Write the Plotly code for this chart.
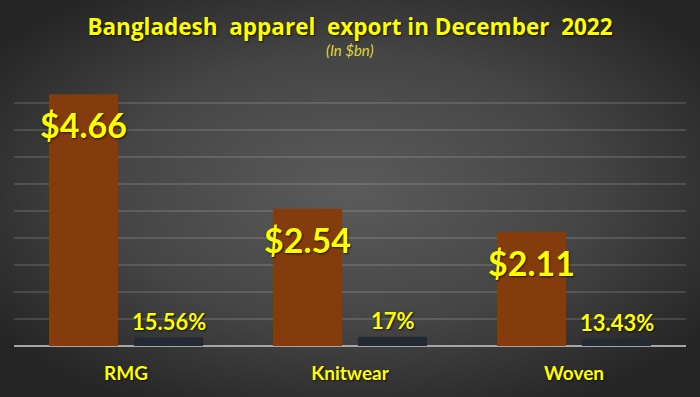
import base64
import plotly.graph_objects as go

categories = ["RMG", "Knitwear", "Woven"]
export_values = [4.66, 2.54, 2.11]
growth_values = [0.1556, 0.17, 0.1343]
value_labels = ["$4.66", "$2.54", "$2.11"]
growth_labels = ["15.56%", "17%", "13.43%"]

W, H = 700, 397
ML, MR, MT, MB = 14, 14, 76, 51
PW, PH = W - ML - MR, H - MT - MB

FONT = "Lato, Calibri, 'Open Sans', sans-serif"
TFONT = "'Open Sans', Lato, sans-serif"
YELLOW = "#FFFF00"
SHADOW = "1px 1px 2px rgba(0,0,0,0.75)"

svg = (
    "<svg xmlns='http://www.w3.org/2000/svg' width='700' height='397'>"
    "<defs><radialGradient id='g' cx='50%' cy='48%' r='62%'>"
    "<stop offset='0' stop-color='#5b5b5b'/>"
    "<stop offset='0.55' stop-color='#454545'/>"
    "<stop offset='1' stop-color='#252525'/>"
    "</radialGradient></defs>"
    "<rect width='700' height='397' fill='url(#g)'/></svg>"
)
svg_uri = "data:image/svg+xml;base64," + base64.b64encode(svg.encode()).decode()

fig = go.Figure()
fig.add_trace(go.Bar(
    x=categories, y=export_values, name="Export",
    marker=dict(color="#843C0C", line=dict(width=0)),
    hoverinfo="skip",
))
fig.add_trace(go.Bar(
    x=categories, y=growth_values, name="Growth",
    marker=dict(color="#222A35", line=dict(width=0)),
    hoverinfo="skip",
))

bargap = 0.241
bargroupgap = 0.188
slot = (PW / len(categories)) * (1 - bargap) / 2
shift = slot / 2

annotations = []
for c, v, lab in zip(categories, export_values, value_labels):
    annotations.append(dict(
        x=c, y=v, xref="x", yref="y", text=lab, showarrow=False,
        xanchor="center", yanchor="top", xshift=-shift, yshift=-8,
        font=dict(family=FONT, size=34, color=YELLOW, weight="bold", shadow=SHADOW),
    ))
for c, v, lab in zip(categories, growth_values, growth_labels):
    annotations.append(dict(
        x=c, y=v, xref="x", yref="y", text=lab, showarrow=False,
        xanchor="center", yanchor="bottom", xshift=shift, yshift=1,
        font=dict(family=FONT, size=22, color=YELLOW, weight="bold", shadow=SHADOW),
    ))
annotations.append(dict(
    x=0.5, y=(H - 50 - MB) / PH, xref="paper", yref="paper", text="<i>(In $bn)</i>",
    showarrow=False, xanchor="center", yanchor="middle",
    font=dict(family=FONT, size=15, color="#E0D63C"),
))

fig.update_layout(
    width=W, height=H,
    margin=dict(l=ML, r=MR, t=MT, b=MB, pad=0),
    paper_bgcolor="#333333", plot_bgcolor="rgba(0,0,0,0)",
    barmode="group", bargap=bargap, bargroupgap=bargroupgap,
    showlegend=False,
    title=dict(
        text="Bangladesh  apparel  export in December  2022",
        x=0.5, xref="container", xanchor="center",
        y=1 - 27 / H, yref="container", yanchor="middle",
        font=dict(family=TFONT, size=22.5, color=YELLOW, weight="bold", shadow=SHADOW),
    ),
    xaxis=dict(
        showgrid=False, showline=False, zeroline=False, ticks="",
        tickfont=dict(family=FONT, size=19, color=YELLOW, weight="bold", shadow=SHADOW),
        ticklabelstandoff=14, fixedrange=True,
    ),
    yaxis=dict(
        range=[0, 5], dtick=0.5, showticklabels=False, ticks="",
        showgrid=True, gridcolor="rgba(255,255,255,0.13)", gridwidth=1.5,
        zeroline=True, zerolinecolor="#A6A6A6", zerolinewidth=1.5,
        fixedrange=True,
    ),
    annotations=annotations,
    images=[dict(
        source=svg_uri, xref="paper", yref="paper",
        x=-ML / PW, y=1 + MT / PH, sizex=W / PW, sizey=H / PH,
        xanchor="left", yanchor="top", sizing="stretch", layer="below",
    )],
)

fig.write_html(
    "out.html",
    config={"displayModeBar": False},
    post_script="document.body.style.margin='0';document.body.style.overflow='hidden';",
)
